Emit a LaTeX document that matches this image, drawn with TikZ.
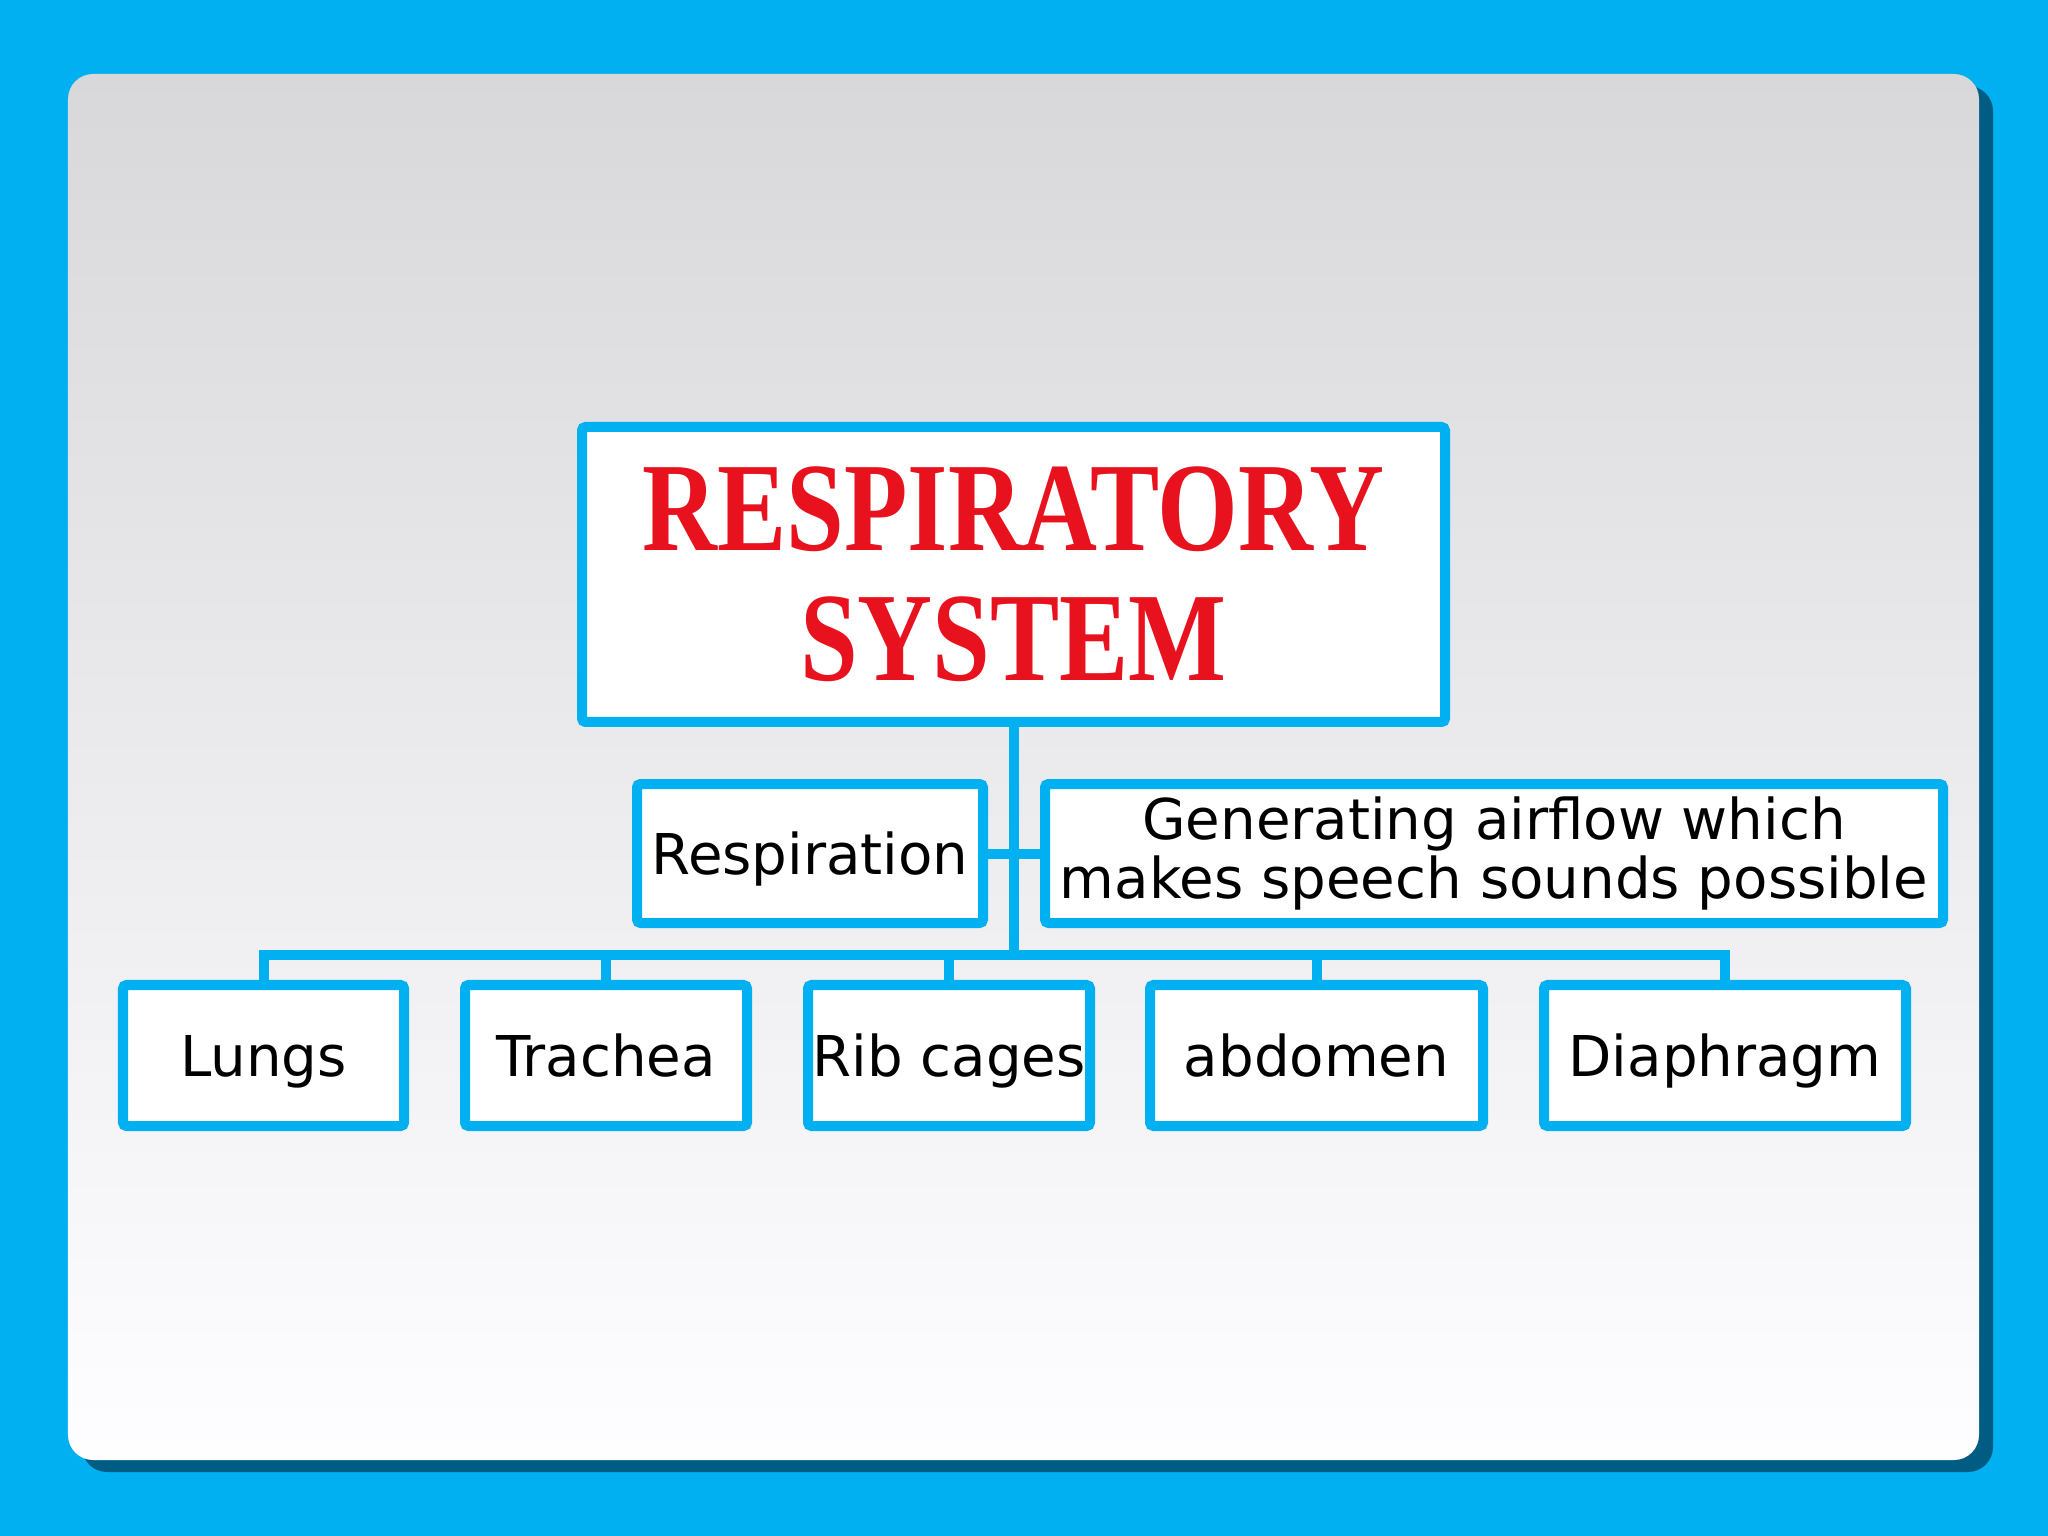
\documentclass[tikz,border=0pt]{standalone}
\usepackage{fontspec}
\setmainfont{DejaVu Sans}
\newfontfamily\titlefont{Liberation Serif}
\usetikzlibrary{calc}
\definecolor{skyblue}{RGB}{0,176,240}
\definecolor{shadowteal}{RGB}{0,92,130}
\definecolor{titlered}{RGB}{232,18,30}
\newcommand{\squeeze}[1]{\scalebox{0.82}[1]{#1}}
\begin{document}
\begin{tikzpicture}[box/.style={draw=skyblue,line width=0.1cm,fill=white,rounded corners=1pt,inner sep=0pt,align=center,font=\fontsize{16}{17}\selectfont},
	word/.style={box,text height=0.56cm,text depth=0.15cm},
	link/.style={draw=skyblue,line width=0.1cm},
	heading/.style={box,minimum width=8.63cm,minimum height=2.95cm,text=titlered,font=\titlefont\bfseries\fontsize{36}{37}\selectfont}]
	\fill[skyblue] (0,0) rectangle (20.48,-15.36);
	\useasboundingbox (0,0) rectangle (20.48,-15.36);
	\fill[shadowteal,rounded corners=0.25cm] (0.82,-0.86) rectangle (19.93,-14.72);
	\shade[top color={rgb,255:red,216;green,215;blue,218},bottom color={rgb,255:red,254;green,253;blue,255},rounded corners=0.25cm] (0.68,-0.74) rectangle (19.79,-14.60);
	\coordinate (bar) at (0,-9.55);
	\node[heading] (title) at (10.135,-5.745) {\squeeze{RESPIRATORY}\\\squeeze{SYSTEM}};
	\node[word,minimum width=3.46cm,minimum height=1.39cm] (resp) at (8.10,-8.535) {Respiration};
	\node[box,minimum width=8.98cm,minimum height=1.39cm] (gen) at (14.94,-8.535) {Generating airflow which\\makes speech sounds possible};
	\node[word,minimum width=2.81cm,minimum height=1.41cm] (lungs) at (2.635,-10.555) {Lungs};
	\node[word,minimum width=2.82cm,minimum height=1.41cm] (trachea) at (6.06,-10.555) {Trachea};
	\node[word,minimum width=2.82cm,minimum height=1.41cm] (ribs) at (9.49,-10.555) {Rib cages};
	\node[word,minimum width=3.33cm,minimum height=1.41cm] (abdomen) at (13.165,-10.555) {abdomen};
	\node[word,minimum width=3.62cm,minimum height=1.41cm] (diaphragm) at (17.25,-10.555) {Diaphragm};
	\draw[link] (title.south) -- (title.south |- bar);
	\draw[link] (resp.east) -- (gen.west);
	\draw[link] (lungs.north) -- (lungs.north |- bar) -- (diaphragm.north |- bar) -- (diaphragm.north);
	\foreach \n in {trachea,ribs,abdomen}
		\draw[link] (\n.north) -- (\n.north |- bar);
\end{tikzpicture}
\end{document}
